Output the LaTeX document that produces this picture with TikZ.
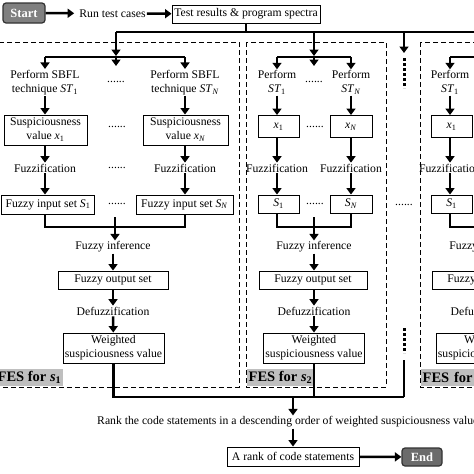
\documentclass[tikz,border=0pt]{standalone}
\usepackage{fontspec}
\setmainfont{Liberation Serif}
\usetikzlibrary{arrows.meta}
\tikzset{
  every node/.style={font=\fontsize{11.7}{14}\selectfont, inner sep=1pt, align=center},
  box/.style={draw, line width=0.9pt},
  term/.style={draw=black!80, fill=black!50, line width=1.2pt, rounded corners=3pt, text=white,
    font=\fontsize{12.5}{14}\selectfont\bfseries},
  lbl/.style={fill=black!25, font=\fontsize{14.5}{17}\selectfont\bfseries, anchor=south west,
    inner sep=1.5pt, minimum height=17pt},
  arr/.style={line width=2.5pt, -{Triangle[length=6.5pt,width=9pt]}},
  bus/.style={line width=2.5pt},
  fes/.style={draw, line width=1pt, dash pattern=on 5pt off 3pt},
  vdots/.style={line width=3pt, dash pattern=on 3pt off 2pt},
}
\newcommand\mysub[1]{\textsubscript{#1}}
\begin{document}
\begin{tikzpicture}[x=1pt,y=-1pt]
\path[use as bounding box, fill=white] (0,0) rectangle (474,474);
\clip (0,0) rectangle (474,474);

% ---------- top row ----------
\node[term, minimum width=42pt, minimum height=20pt] (start) at (24,13) {Start};
\node (run) at (112.5,13.5) {Run test cases};
\node[box, minimum width=148pt, minimum height=18pt] (tr) at (246,14) {Test results \& program spectra};
\draw[arr, shorten >=4pt] (start) -- (run);
\draw[arr] (run) -- (tr);

\coordinate (m1) at (116,32);
\coordinate (m2) at (314,32);
\coordinate (m3) at (404,32);
\coordinate (m4) at (487,32);
\coordinate (mE) at (530,32);
\draw[bus] (tr.south) -- (tr.south |- m1);
\draw[bus] (m1) -- (mE);

% ---------- dashed FES boxes ----------
\draw[fes] (-4,42) rectangle (239,387);
\draw[fes] (246,42) rectangle (386,387);
\draw[fes] (420,42) rectangle (560,387);
\node[lbl] (l1) at (-4,386) {FES for \textit{s}\mysub{1}};
\node[lbl] (l2) at (247,386) {FES for \textit{s}\mysub{2}};
\node[lbl, text width=70pt, align=left] (l3) at (421,386) {FES for};

% ---------- FES 1 ----------
\coordinate (b1) at (116,56);
\coordinate (d1) at (116,66);
\draw[arr] (m1) -- (b1);
\draw[bus] (45,57) -- (185,57);
\node (p1) at (45,82.5) {Perform SBFL\\technique \textit{ST}\mysub{1}};
\node (pd1) at (116,82) {......};
\node (pN) at (185,82.5) {Perform SBFL\\technique \textit{ST}\mysub{\textit{N}}};
\draw[arr] (p1 |- b1) ++(0,1) -- (p1.north);
\draw[arr] (b1) ++(0,1) -- (d1);
\draw[arr] (pN |- b1) ++(0,1) -- (pN.north);

\node[box, minimum width=83pt, minimum height=30pt] (x1) at (45.5,130) {Suspiciousness\\value \textit{x}\mysub{1}};
\node (xd1) at (117,127) {......};
\node[box, minimum width=85pt, minimum height=30pt] (xN) at (185.5,130) {Suspiciousness\\value \textit{x}\mysub{\textit{N}}};
\draw[arr] (p1) -- (p1 |- x1.north);
\draw[arr] (pN) -- (pN |- xN.north);

\node (f1) at (45,168) {Fuzzification};
\node (fd1) at (117,168) {......};
\node (fN) at (185,168) {Fuzzification};
\draw[arr] (p1 |- x1.south) -- (f1.north);
\draw[arr] (pN |- xN.south) -- (fN.north);

\node[box, minimum width=93pt, minimum height=19pt] (S1) at (48,204.5) {Fuzzy input set \textit{S}\mysub{1}};
\node (sd1) at (117,204) {......};
\node[box, minimum width=97pt, minimum height=19pt] (SN) at (184.5,204.5) {Fuzzy input set \textit{S}\mysub{\textit{N}}};
\draw[arr] (f1.south) -- (f1.south |- S1.north);
\draw[arr] (fN.south) -- (fN.south |- SN.north);

\coordinate (j1) at (115,227);
\coordinate (t1) at (115,217);
\draw[bus] (p1 |- S1.south) -- (p1 |- j1) -- (pN |- j1) -- (pN |- SN.south);
\node (fi1) at (113,247) {Fuzzy inference};
\draw[arr] (t1) -- (t1 |- fi1.north);
\node[box, minimum width=110pt, minimum height=18pt] (fo1) at (113,280) {Fuzzy output set};
\draw[arr] (fi1) -- (fo1);
\node (df1) at (113,311) {Defuzzification};
\draw[arr] (fo1) -- (df1);
\node[box, minimum width=101pt, minimum height=30pt] (w1) at (113.5,348) {Weighted\\suspiciousness value};
\draw[arr] (df1) -- (w1);

% ---------- FES 2 ----------
\coordinate (b2) at (314,56);
\coordinate (d2) at (314,66);
\draw[arr] (m2) -- (b2);
\draw[bus] (277,57) -- (351,57);
\node (q1) at (277,82.5) {Perform\\\textit{ST}\mysub{1}};
\node (qd) at (314,82) {......};
\node (qN) at (351,82.5) {Perform\\\textit{ST}\mysub{\textit{N}}};
\draw[arr] (q1 |- b2) ++(0,1) -- (q1.north);
\draw[arr] (b2) ++(0,1) -- (d2);
\draw[arr] (qN |- b2) ++(0,1) -- (qN.north);

\node[box, minimum width=41pt, minimum height=22pt] (y1) at (278.5,126.5) {\textit{x}\mysub{1}};
\node (yd) at (315,127) {......};
\node[box, minimum width=42pt, minimum height=22pt] (yN) at (351,126.5) {\textit{x}\mysub{\textit{N}}};
\draw[arr] (q1) -- (q1 |- y1.north);
\draw[arr] (qN) -- (qN |- yN.north);

\node (g1) at (277,168) {Fuzzification};
\node (gN) at (351,168) {Fuzzification};
\draw[arr] (q1 |- y1.south) -- (g1.north);
\draw[arr] (qN |- yN.south) -- (gN.north);

\node[box, minimum width=41pt, minimum height=18pt] (T1) at (278.5,204) {\textit{S}\mysub{1}};
\node (td) at (315,204) {......};
\node[box, minimum width=42pt, minimum height=18pt] (TN) at (351,204) {\textit{S}\mysub{\textit{N}}};
\draw[arr] (g1.south) -- (g1.south |- T1.north);
\draw[arr] (gN.south) -- (gN.south |- TN.north);

\coordinate (j2) at (314,227);
\coordinate (t2) at (314,217);
\draw[bus] (q1 |- T1.south) -- (q1 |- j2) -- (qN |- j2) -- (qN |- TN.south);
\node (fi2) at (314,247) {Fuzzy inference};
\draw[arr] (t2) -- (t2 |- fi2.north);
\node[box, minimum width=108pt, minimum height=18pt] (fo2) at (313,280) {Fuzzy output set};
\draw[arr] (fi2) -- (fi2 |- fo2.north);
\node (df2) at (314,311) {Defuzzification};
\draw[arr] (df2 |- fo2.south) -- (df2.north);
\node[box, minimum width=101pt, minimum height=30pt] (w2) at (314,348) {Weighted\\suspiciousness value};
\draw[arr] (df2) -- (df2 |- w2.north);

% ---------- between FES 2 and FES 3 ----------
\coordinate (k1) at (404,53);
\coordinate (v2) at (404,360);
\draw[arr] (m3) -- (k1);
\draw[vdots] (404,58) -- (404,88);
\node (bd) at (404,205) {......};
\draw[vdots] (404,328) -- (404,353);

% ---------- FES 3 (partly visible) ----------
\coordinate (b3) at (487,56);
\draw[arr] (m4) -- (b3);
\draw[bus] (450,57) -- (524,57);
\node (r1) at (450,82.5) {Perform\\\textit{ST}\mysub{1}};
\draw[arr] (r1 |- b3) ++(0,1) -- (r1.north);
\node[box, minimum width=41pt, minimum height=22pt] (z1) at (451.5,126.5) {\textit{x}\mysub{1}};
\draw[arr] (r1) -- (r1 |- z1.north);
\node (h1) at (450,168) {Fuzzification};
\draw[arr] (r1 |- z1.south) -- (h1.north);
\node[box, minimum width=41pt, minimum height=18pt] (U1) at (451.5,204) {\textit{S}\mysub{1}};
\draw[arr] (h1.south) -- (h1.south |- U1.north);
\coordinate (j3) at (524,227);
\draw[bus] (r1 |- U1.south) -- (r1 |- j3) -- (j3);
\node (fi3) at (487,247) {Fuzzy inference};
\node[box, minimum width=108pt, minimum height=18pt] (fo3) at (486,280) {Fuzzy output set};
\draw[arr] (fi3) -- (fi3 |- fo3.north);
\node (df3) at (487,311) {Defuzzification};
\draw[arr] (df3 |- fo3.south) -- (df3.north);
\node[box, minimum width=101pt, minimum height=30pt] (w3) at (486.5,348) {Weighted\\suspiciousness value};
\draw[arr] (df3) -- (df3 |- w3.north);

% ---------- bottom ----------
\coordinate (bbR) at (404,397);
\draw[bus] (w1.south) |- (bbR);
\draw[bus] (w2.south) -- (w2.south |- bbR);
\draw[bus] (v2) -- (bbR);

\node[anchor=west] (rank) at (96,422) {Rank the code statements in a descending order of weighted suspiciousness values};
\node[box, minimum width=132pt, minimum height=19pt] (rk) at (293,456.5) {A rank of code statements};
\draw[arr] (rk |- bbR) -- (rk |- rank.north);
\draw[arr] (rk |- rank.south) -- (rk.north);
\node[term, fill=black!58, minimum width=40pt, minimum height=18pt] (fin) at (422,457) {End};
\draw[arr] (rk) -- (fin);
\end{tikzpicture}
\end{document}
